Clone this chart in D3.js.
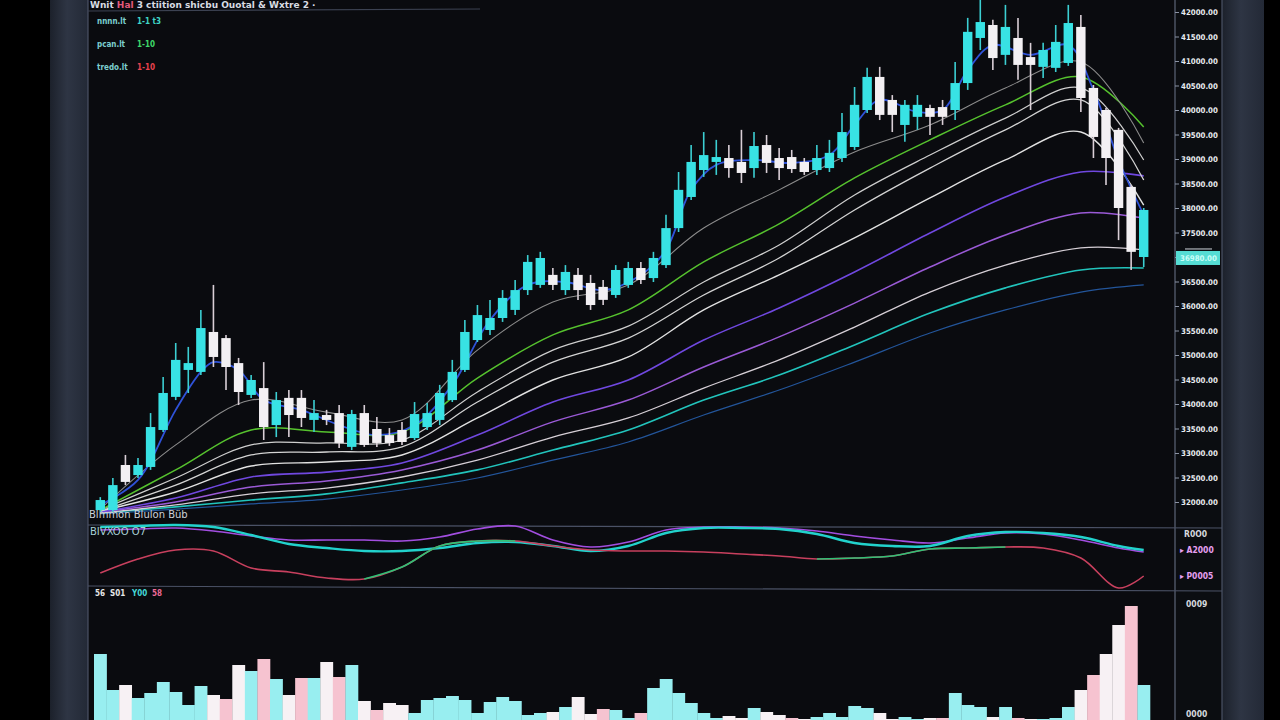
<!DOCTYPE html>
<html>
<head>
<meta charset="utf-8">
<script src="https://cdn.jsdelivr.net/npm/d3@7"></script>
<style>
html,body{margin:0;padding:0;background:#000;}
svg{display:block;}
</style>
</head>
<body>
<svg id="chart" width="1280" height="720"></svg>
<script>
// ---- data ----
const priceTicks = d3.range(32000, 42001, 500);
const lastPrice = 36980;

// [open, high, low, close]
const candles = [
  [31835,32100,31795,32040],[31835,32490,31795,32345],[32755,32960,32345,32410],[32550,32900,32490,32755],
  [32715,33815,32655,33530],[33470,34550,33430,34225],[34145,35245,34080,34900],[34695,35165,34225,34835],
  [34655,35920,34590,35550],[35470,36430,34755,34960],[35345,35410,34285,34755],[34835,34940,33980,34245],
  [34185,34590,34125,34490],[34325,34855,33265,33530],[33570,34245,33325,34080],[34125,34285,33325,33775],
  [34125,34285,33530,33715],[33675,34080,33430,33815],[33775,33880,33570,33675],[33815,33980,33100,33205],
  [33125,33880,33060,33795],[33815,33980,33125,33165],[33490,33735,33125,33205],[33365,33510,33145,33205],
  [33470,33635,33165,33225],[33305,34040,33265,33795],[33530,34020,33470,33815],[33675,34390,33570,34225],
  [34080,34900,34040,34655],[34695,35715,34655,35470],[35305,36020,35265,35815],[35510,36125,35410,35755],
  [35755,36325,35675,36165],[35920,36530,35815,36325],[36325,37040,36225,36900],[36430,37105,36370,36980],
  [36635,36775,36325,36430],[36325,36835,36225,36695],[36635,36775,36125,36325],[36470,36635,35920,36020],
  [36390,36530,36020,36125],[36225,36835,36165,36735],[36430,36900,36370,36775],[36775,36900,36450,36530],
  [36570,37105,36490,36980],[36835,37860,36775,37590],[37590,38735,37510,38370],[38225,39285,38165,38940],
  [38775,39550,38635,39080],[38940,39390,38675,39040],[39020,39285,38615,38815],[38940,39595,38510,38715],
  [38815,39550,38615,39265],[39285,39490,38715,38920],[39020,39225,38570,38815],[39040,39185,38715,38795],
  [38940,39020,38675,38735],[38775,39285,38675,39020],[38815,39390,38735,39125],[39020,39940,38940,39550],
  [39245,40470,39185,40105],[40000,40860,39940,40675],[40675,40880,39795,39900],[40205,40305,39550,39900],
  [39695,40205,39350,40105],[39860,40305,39595,40105],[40040,40105,39490,39860],[40060,40205,39695,39860],
  [40000,40980,39795,40550],[40550,41880,40410,41595],[41470,42245,41225,41795],[41735,41840,40815,41060],
  [41125,42145,40920,41695],[41470,41880,40615,40920],[41080,41370,40000,40920],[40880,41370,40655,41225],
  [40860,41735,40775,41390],[40960,42145,40900,41775],[41695,41940,39960,40245],[40450,40510,39020,39450],
  [40000,40040,38470,39020],[39595,39635,37345,38000],[38430,38470,36735,37105],[37000,38000,36795,37960]
];

const volumes = [
  66,30,35,22,27,38,28,15,34,25,21,55,49,61,41,25,42,42,58,43,55,19,10,17,15,7,20,22,24,20,
  7,18,23,19,5,7,8,13,23,6,11,10,2,7,32,41,27,17,7,2,4,2,12,8,5,2,1,3,7,3,
  14,12,7,1,3,1,2,2,27,15,13,3,13,2,1,1,2,13,30,45,66,95,114,35
];

// fast average: hugs the candles, sampled at its own indexes
const fastIdx = [0,3,6,8,9,11,13,16,19,22,25,28,31,34,37,40,43,45,47,49,52,55,58,60,62,65,67,69,71,74,77,79,81,83];
const maFast  = [31940,32450,33880,34655,34855,34695,34080,33880,33570,33365,33570,34390,35715,36430,36490,36325,36635,
                 37145,38370,38880,38980,38920,39080,39695,40205,39960,40000,40815,41325,41125,41325,40410,38980,37860];

// slower averages, sampled at these candle indexes
const maIdx = [0,6,12,18,24,30,36,42,48,54,60,66,72,78,83];
const maGray   = [31855,33165,34080,33835,33675,35100,36080,36430,37590,38370,39145,39695,40450,40980,39325];
const maGreen  = [31835,32655,33470,33430,33430,34530,35410,35920,36900,37675,38615,39390,40105,40675,39655];
const maWhite1 = [31835,32490,33165,33205,33265,34245,35100,35590,36490,37245,38265,39080,39835,40450,38980];
const maWhite2 = [31815,32345,32960,33020,33125,34040,34855,35345,36225,36980,37960,38815,39595,40205,38570];
const maWhite3 = [31815,32205,32735,32815,32960,33715,34490,34960,35920,36635,37390,38205,38980,39550,38060];
const maPurple = [31795,32080,32510,32610,32795,33365,34040,34490,35305,35960,36695,37490,38225,38735,38655];
const maViolet = [31795,32000,32305,32430,32655,33060,33635,34080,34755,35370,36060,36795,37450,37900,37795];
const maWhite4 = [31775,31940,32165,32285,32510,32855,33325,33715,34325,34900,35570,36285,36835,37185,37145];
const maTeal   = [31775,31900,32040,32165,32390,32655,33060,33470,34080,34590,35205,35855,36370,36735,36775];
const maBlue   = [31755,31855,31960,32060,32245,32490,32855,33225,33775,34285,34855,35450,35920,36285,36430];

// oscillator panel, sampled at these candle indexes
const oscIdx = [0,3,6,9,12,15,18,21,24,27,30,33,36,39,42,45,48,51,54,57,60,63,66,69,72,75,78,81,83];
const oscFast   = [59,60,61,59,51,42,38,35,35,38,43,44,40,35,40,53,58,58,57,52,43,40,40,50,54,53,49,40,36];
const oscSlow   = [56,57,58,55,50,46,46,46,45,49,57,60,46,39,44,56,59,59,58,55,50,46,43,48,53,52,46,38,34];
const oscSignal = [13,27,36,35,18,14,8,7,19,40,45,45,40,36,35,35,34,32,30,27,28,30,37,38,39,38,28,-2,10];

// ---- layout ----
const svg = d3.select('#chart');
const left = 88, right = 1175, axisRight = 1222;
const mainBottom = 524, oscTop = 526, oscBottom = 589;

const x = d3.scaleBand().domain(d3.range(candles.length)).range([94, 1150]).paddingInner(0);
const cx = i => x(i) + x.bandwidth() / 2;
const y = d3.scaleLinear().domain([32000, 42000]).range([502, 12]);
const yOsc = d3.scaleLinear().domain([0, 60]).range([586, 526]);
const yVol = d3.scaleLinear().domain([0, 120]).range([720, 600]);

const defs = svg.append('defs');
let bz = defs.append('linearGradient').attr('id', 'bezel').attr('x1', 0).attr('x2', 1);
bz.append('stop').attr('offset', '0%').attr('stop-color', '#1c212b');
bz.append('stop').attr('offset', '45%').attr('stop-color', '#2e3544');
bz.append('stop').attr('offset', '100%').attr('stop-color', '#232936');
defs.append('clipPath').attr('id', 'mainClip').append('rect')
  .attr('x', left).attr('y', 0).attr('width', right - left).attr('height', mainBottom);

// frame
svg.append('rect').attr('width', 1280).attr('height', 720).attr('fill', '#000');
svg.append('rect').attr('x', 50).attr('width', 38).attr('height', 720).attr('fill', 'url(#bezel)');
svg.append('rect').attr('x', axisRight).attr('width', 42).attr('height', 720).attr('fill', 'url(#bezel)');
svg.append('rect').attr('x', left).attr('width', right - left).attr('height', 720).attr('fill', '#0a0b0f');
svg.append('rect').attr('x', right).attr('width', axisRight - right).attr('height', 720).attr('fill', '#0b0d11');

const grid = svg.append('g').attr('stroke', '#4b5266').attr('stroke-width', 1.2);
grid.append('line').attr('x1', left).attr('x2', left).attr('y1', 0).attr('y2', 720);
grid.append('line').attr('x1', right).attr('x2', right).attr('y1', 0).attr('y2', 720).attr('stroke', '#5d6578');
grid.append('line').attr('x1', axisRight).attr('x2', axisRight).attr('y1', 0).attr('y2', 720);
grid.append('line').attr('x1', left).attr('x2', 480).attr('y1', 11).attr('y2', 9).attr('stroke', '#3c4252');
grid.append('line').attr('x1', left).attr('x2', axisRight).attr('y1', oscTop - 1).attr('y2', oscTop + 2);
grid.append('line').attr('x1', left).attr('x2', axisRight).attr('y1', oscBottom - 3).attr('y2', oscBottom + 2);

// title
const title = svg.append('text').attr('x', 90).attr('y', 8).attr('font-family', 'DejaVu Sans')
  .attr('font-size', 9).attr('font-weight', 'bold').attr('fill', '#d8dbe2');
title.append('tspan').text('Wnit ');
title.append('tspan').attr('fill', '#e05a7a').text('Hal');
title.append('tspan').text(' 3 ctiition shicbu Ouotal & Wxtre 2 ·');

// legend
const legend = [['nnnn.lt', '1-1 t3', '#3fd6c8'], ['pcan.lt', '1-10', '#3fd86a'], ['tredo.lt', '1-10', '#e8424e']];
legend.forEach((d, i) => {
  svg.append('text').attr('x', 97).attr('y', 24 + i * 23).attr('font-family', 'DejaVu Sans Condensed')
    .attr('font-size', 8).attr('font-weight', 'bold').attr('fill', '#7ecfd0').text(d[0]);
  svg.append('text').attr('x', 137).attr('y', 24 + i * 23).attr('font-family', 'DejaVu Sans Condensed')
    .attr('font-size', 8).attr('font-weight', 'bold').attr('fill', d[2]).text(d[1]);
});

// price axis
const fmt = d3.format('.2f');
const yAxis = d3.axisRight(y).tickValues(priceTicks).tickSize(4).tickPadding(2).tickFormat(fmt);
const ga = svg.append('g').attr('transform', `translate(${right},0)`).call(yAxis);
ga.select('.domain').remove();
ga.selectAll('line').attr('stroke', '#8a92a3');
ga.selectAll('text').attr('fill', '#e8ebf0').attr('font-family', 'DejaVu Sans Condensed')
  .attr('font-size', 7.8).attr('font-weight', 'bold');

// moving averages
const maLine = d3.line().x((d, i) => cx(maIdx[i])).y(d => y(d)).curve(d3.curveCatmullRom);
const mas = [
  [maBlue, '#23559a', 1.2], [maTeal, '#22c4bc', 1.6], [maWhite4, '#d6cfd6', 1.3],
  [maViolet, '#9a5ad6', 1.5], [maPurple, '#7048e0', 1.6], [maWhite3, '#e2e2e2', 1.4],
  [maWhite2, '#d4d4d4', 1.3], [maWhite1, '#cfcfcf', 1.2], [maGreen, '#56c22e', 1.5],
  [maGray, '#8c8c8c', 1.1]
];
const gMa = svg.append('g').attr('clip-path', 'url(#mainClip)').attr('fill', 'none');
mas.forEach(m => {
  gMa.append('path').attr('d', maLine(m[0])).attr('stroke', m[1]).attr('stroke-width', m[2]);
});
const fastLine = d3.line().x((d, i) => cx(fastIdx[i])).y(d => y(d)).curve(d3.curveCatmullRom);
gMa.append('path').attr('d', fastLine(maFast)).attr('stroke', '#2f52d8').attr('stroke-width', 1.8);

// candles
const upCol = '#38e2e4', downCol = '#f3f0f3';
const gC = svg.append('g').attr('clip-path', 'url(#mainClip)');
const c = gC.selectAll('g.candle').data(candles).enter().append('g').attr('class', 'candle');
c.append('line')
  .attr('x1', (d, i) => cx(i)).attr('x2', (d, i) => cx(i))
  .attr('y1', d => y(d[1])).attr('y2', d => y(d[2]))
  .attr('stroke', d => d[3] >= d[0] ? '#3ccfd2' : '#d9cfd6').attr('stroke-width', 1.6);
c.append('rect')
  .attr('x', (d, i) => cx(i) - 4.7).attr('width', 9.4)
  .attr('y', d => y(Math.max(d[0], d[3])))
  .attr('height', d => Math.max(2, Math.abs(y(d[0]) - y(d[3]))))
  .attr('fill', d => d[3] >= d[0] ? upCol : downCol);

// last price tag
svg.append('line').attr('x1', 1185).attr('x2', 1212).attr('y1', y(lastPrice) - 9).attr('y2', y(lastPrice) - 9)
  .attr('stroke', '#cfd3da').attr('stroke-width', 1);
svg.append('rect').attr('x', right + 1).attr('y', y(lastPrice) - 7).attr('width', 44).attr('height', 14)
  .attr('fill', '#55ddd4');
svg.append('text').attr('x', right + 5).attr('y', y(lastPrice) + 3).attr('font-family', 'DejaVu Sans Condensed')
  .attr('font-size', 7.8).attr('font-weight', 'bold').attr('fill', '#c9fff8').text(fmt(lastPrice));

// oscillator panel
const oscLine = d3.line().x((d, i) => cx(oscIdx[i])).y(d => yOsc(d)).curve(d3.curveCatmullRom);
const gO = svg.append('g').attr('fill', 'none');
gO.append('path').attr('d', oscLine(oscSlow)).attr('stroke', '#a24ee0').attr('stroke-width', 1.6);
gO.append('path').attr('d', oscLine(oscFast)).attr('stroke', '#22d2cc').attr('stroke-width', 2.4);
gO.append('path').attr('d', oscLine(oscSignal)).attr('stroke', '#c8405e').attr('stroke-width', 1.6);
// green stretches of the signal line
const greenSpans = [[21, 33], [57, 72]];
greenSpans.forEach(s => {
  const seg = d3.line().x(d => cx(d[0])).y(d => yOsc(d[1])).curve(d3.curveCatmullRom);
  const pts = oscIdx.map((k, i) => [k, oscSignal[i]]).filter(p => p[0] >= s[0] && p[0] <= s[1]);
  gO.append('path').attr('d', seg(pts)).attr('stroke', '#2fc276').attr('stroke-width', 1.6);
});

svg.append('text').attr('x', 89).attr('y', 518).attr('font-family', 'DejaVu Sans').attr('font-size', 10)
  .attr('fill', '#cdd1d9').text('Blmmon Blulon Büb');
svg.append('text').attr('x', 90).attr('y', 535).attr('font-family', 'DejaVu Sans').attr('font-size', 10)
  .attr('fill', '#a6cfd6').text('BIVXOO O7');

const rlab = svg.append('g').attr('font-family', 'DejaVu Sans Condensed').attr('font-size', 8.5).attr('font-weight', 'bold');
rlab.append('text').attr('x', 1184).attr('y', 537).attr('fill', '#d6d8de').text('R0O0');
rlab.append('text').attr('x', 1180).attr('y', 553).attr('fill', '#e59ff0').text('▸ A2000');
rlab.append('text').attr('x', 1180).attr('y', 579).attr('fill', '#e59ff0').text('▸ P0005');
rlab.append('text').attr('x', 1186).attr('y', 607).attr('fill', '#d6d8de').text('0009');
rlab.append('text').attr('x', 1186).attr('y', 717).attr('fill', '#d6d8de').text('0000');

// volume panel
const volLab = [['56', '#e6e6e6', 95], ['S01', '#e6e6e6', 110], ['Y00', '#43d8d8', 132], ['58', '#ef6a98', 152]];
volLab.forEach(d => {
  svg.append('text').attr('x', d[2]).attr('y', 596).attr('font-family', 'DejaVu Sans Condensed')
    .attr('font-size', 8).attr('font-weight', 'bold').attr('fill', d[1]).text(d[0]);
});
svg.append('g').selectAll('rect').data(volumes).enter().append('rect')
  .attr('x', (d, i) => x(i)).attr('width', x.bandwidth() + 0.3)
  .attr('y', d => yVol(d)).attr('height', d => 720 - yVol(d))
  .attr('fill', (d, i) => {
    const k = candles[i];
    if (k[3] >= k[0]) return '#98eef0';
    return i % 3 === 1 ? '#f6c3d0' : '#f7f1f4';
  });
</script>
</body>
</html>
